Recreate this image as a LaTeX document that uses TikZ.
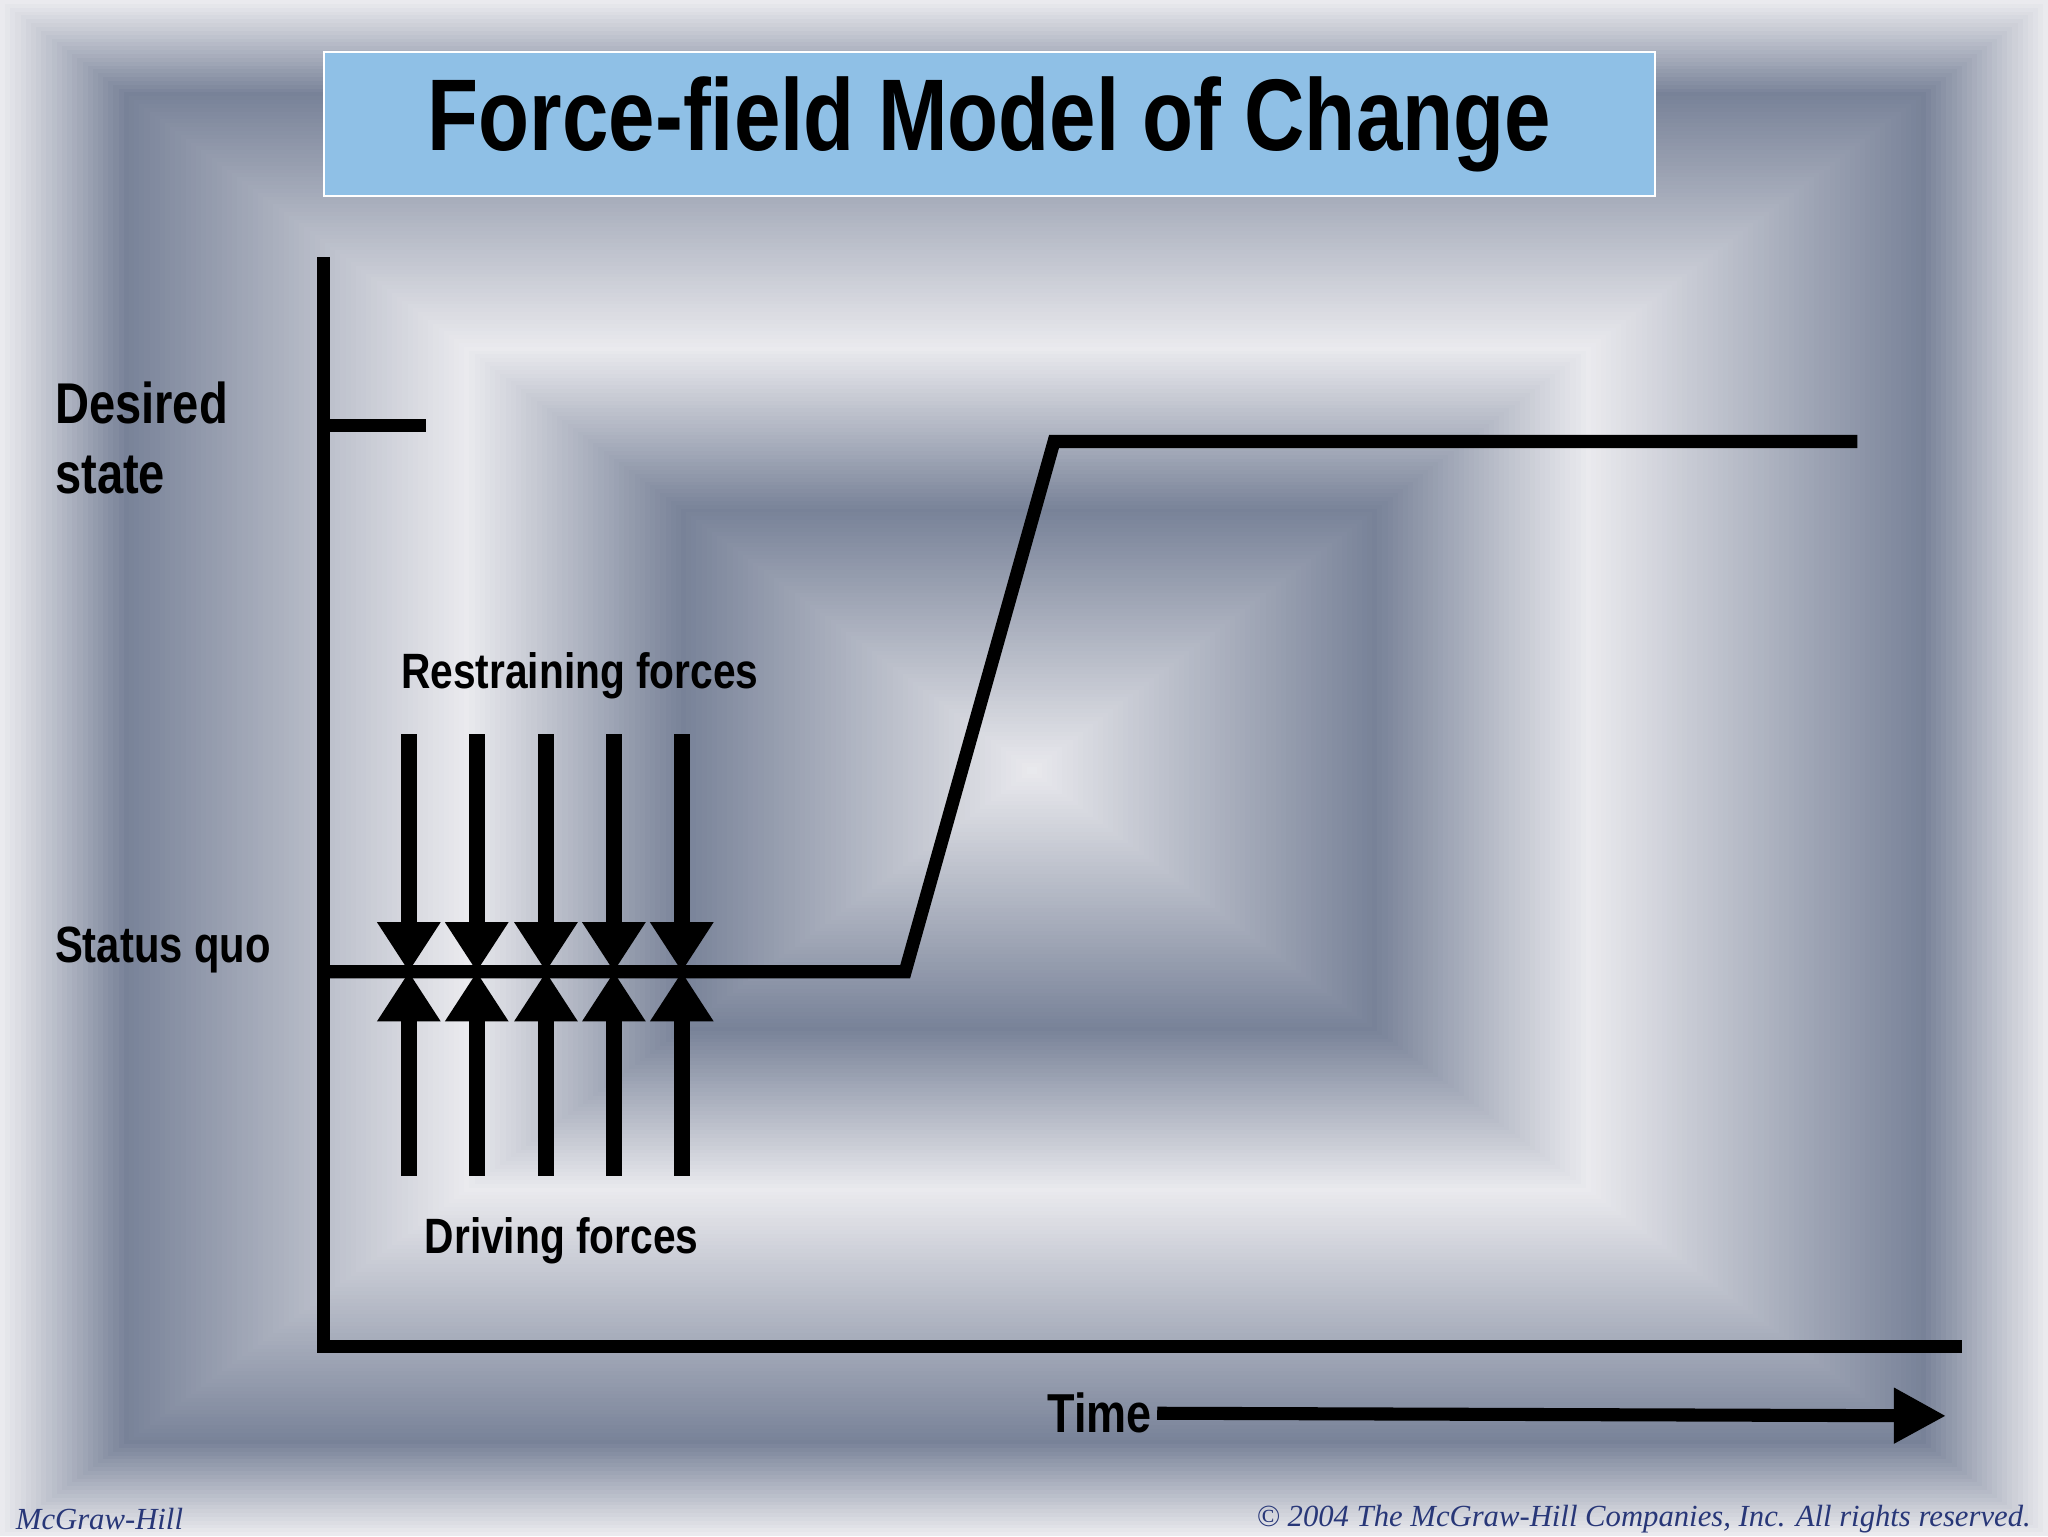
\documentclass[tikz,border=0pt]{standalone}
\usepackage{fontspec}
\setmainfont{Liberation Sans}
\newfontfamily\condfont[FakeStretch=0.82]{Liberation Sans}
\newfontfamily\footfont{Liberation Serif}
\usetikzlibrary{arrows.meta}
\definecolor{bglight}{RGB}{234,234,238}
\definecolor{bgdark}{RGB}{120,130,152}
\definecolor{titleblue}{RGB}{143,192,230}
\definecolor{footblue}{RGB}{40,55,120}
\tikzset{
  lbl/.style={font=\condfont\bfseries\fontsize{38}{44}\selectfont, inner sep=0pt},
  thick line/.style={line width=10pt, black},
  force/.style={line width=12pt, black, -{Triangle[width=46pt,length=38pt]}},
  foot/.style={font=\footfont\itshape\fontsize{23.5}{26}\selectfont, text=footblue, inner sep=0pt}
}
\begin{document}
\begin{tikzpicture}[x=1pt,y=-1pt]
\useasboundingbox (0,0) rectangle (1568,1176);
% background concentric gradient
\foreach \i in {0,...,200}{
  \pgfmathsetmacro{\t}{1-\i/200}
  \pgfmathsetmacro{\m}{\t>0.88 ? (\t-0.88)/0.12*100 : (\t>0.55 ? (0.88-\t)/0.33*100 : (\t>0.34 ? (\t-0.34)/0.21*100 : (0.34-\t)/0.34*100))}
  \pgfmathsetmacro{\m}{min(100,\m)}
  \fill[bglight!\m!bgdark] (790-790*\t,590-590*\t) rectangle (790+778*\t,590+586*\t);
}
% title
\node[draw=white, line width=1.5pt, fill=titleblue, minimum width=1019pt, minimum height=110pt, inner sep=0pt,
      font=\condfont\bfseries\fontsize{78}{84}\selectfont] (title) at (757.5,95) {Force-field Model of Change};
% axes
\coordinate (ytop) at (248,197);
\coordinate (origin) at (248,1031);
\coordinate (xend) at (1502,1031);
\draw[thick line] (ytop) -- (origin) -- (xend);
\coordinate (dtick0) at (248,326);
\coordinate (dtick1) at (326,326);
\draw[thick line] (dtick0) -- (dtick1);
% status line
\coordinate (s0) at (248,744);
\coordinate (s1) at (693,744);
\coordinate (s2) at (807,338);
\coordinate (s3) at (1422,338);
\draw[thick line, line join=miter] (s0) -- (s1) -- (s2) -- (s3);
% labels
\node[lbl, anchor=north west, align=left, font=\condfont\bfseries\fontsize{44}{54}\selectfont] (desired) at (42,292) {Desired\\state};
\node[lbl, anchor=west, font=\condfont\bfseries\fontsize{39}{44}\selectfont] (status) at (42,727) {Status quo};
\node[lbl] (restr) at (444,517) {Restraining forces};
\node[lbl] (driv) at (430,950) {Driving forces};
% forces
\foreach \x [count=\k] in {313,365,418,470,522}{
  \coordinate (rt\k) at (\x,562);
  \coordinate (rb\k) at (\x,744);
  \coordinate (db\k) at (\x,900);
  \coordinate (dt\k) at (\x,744);
  \draw[force] (rt\k) -- (rb\k);
  \draw[force] (db\k) -- (dt\k);
}
% time
\node[lbl, anchor=east, font=\condfont\bfseries\fontsize{42}{48}\selectfont] (time) at (882,1082) {Time};
\coordinate (tend) at (1490,1084);
\draw[line width=10pt, -{Triangle[width=40pt,length=40pt]}] (time.east) ++(4,0) coordinate (tstart) -- (tend);
% footer
\node[foot, anchor=west] (mh) at (12,1163) {McGraw-Hill};
\node[foot, anchor=east] (copy) at (1555,1163) {© 2004 The McGraw-Hill Companies, Inc. All rights reserved.};
\end{tikzpicture}
\end{document}
